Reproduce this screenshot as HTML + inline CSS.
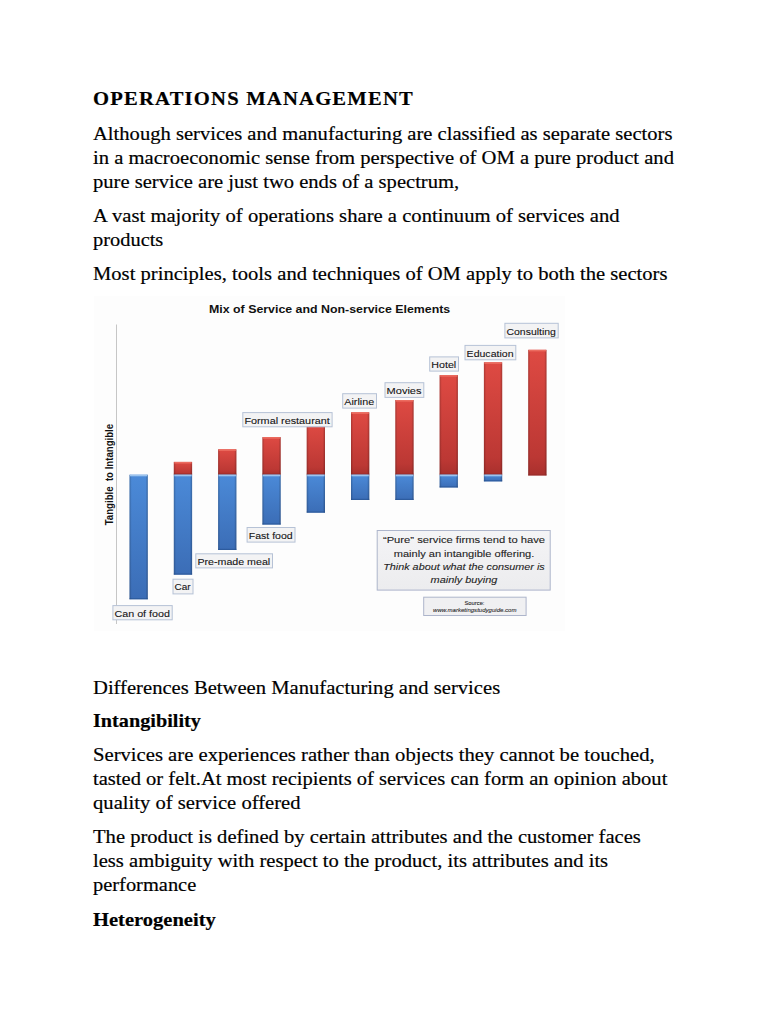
<!DOCTYPE html>
<html><head><meta charset="utf-8"><style>
html,body{margin:0;padding:0;background:#fff;width:768px;height:1024px;overflow:hidden}
.l{position:absolute;white-space:nowrap;font-family:"Liberation Serif",serif;font-size:20.6px;line-height:24px;color:#000}
.b{font-weight:bold}
.l{-webkit-text-stroke:0.2px #000}
.t{font-weight:bold;letter-spacing:1.2px}
#chart{position:absolute;left:0;top:0}
</style></head><body>
<div class="l t" style="top:86.45px;left:93px;transform-origin:0 18.95px;transform:scale(1.0013,0.95)">OPERATIONS MANAGEMENT</div>
<div class="l" style="top:120.85px;left:93px;transform-origin:0 18.95px;transform:scale(0.9993,0.95)">Although services and manufacturing are classified as separate sectors</div>
<div class="l" style="top:144.85px;left:93px;transform-origin:0 18.95px;transform:scale(1.0009,0.95)">in a macroeconomic sense from perspective of OM a pure product and</div>
<div class="l" style="top:168.95px;left:93px;transform-origin:0 18.95px;transform:scale(0.9989,0.95)">pure service are just two ends of a spectrum,</div>
<div class="l" style="top:202.85px;left:93px;transform-origin:0 18.95px;transform:scale(1.0030,0.95)">A vast majority of operations share a continuum of services and</div>
<div class="l" style="top:227.05px;left:93px;transform-origin:0 18.95px;transform:scale(0.9915,0.95)">products</div>
<div class="l" style="top:261.05px;left:93px;transform-origin:0 18.95px;transform:scale(1.0003,0.95)">Most principles, tools and techniques of OM apply to both the sectors</div>
<div class="l" style="top:674.85px;left:93px;transform-origin:0 18.95px;transform:scale(1.0010,0.95)">Differences Between Manufacturing and services</div>
<div class="l b" style="top:707.85px;left:93px;transform-origin:0 18.95px;transform:scale(0.9819,0.95)">Intangibility</div>
<div class="l" style="top:741.85px;left:93px;transform-origin:0 18.95px;transform:scale(1.0025,0.95)">Services are experiences rather than objects they cannot be touched,</div>
<div class="l" style="top:765.95px;left:93px;transform-origin:0 18.95px;transform:scale(0.9983,0.95)">tasted or felt.At most recipients of services can form an opinion about</div>
<div class="l" style="top:790.25px;left:93px;transform-origin:0 18.95px;transform:scale(1.0019,0.95)">quality of service offered</div>
<div class="l" style="top:823.85px;left:93px;transform-origin:0 18.95px;transform:scale(1.0000,0.95)">The product is defined by certain attributes and the customer faces</div>
<div class="l" style="top:848.25px;left:93px;transform-origin:0 18.95px;transform:scale(0.9996,0.95)">less ambiguity with respect to the product, its attributes and its</div>
<div class="l" style="top:872.45px;left:93px;transform-origin:0 18.95px;transform:scale(0.9924,0.95)">performance</div>
<div class="l b" style="top:907.05px;left:93px;transform-origin:0 18.95px;transform:scale(0.9968,0.95)">Heterogeneity</div>
<svg id="chart" width="768" height="1024" viewBox="0 0 768 1024" style="position:absolute;left:0;top:0">
<defs>
<linearGradient id="rg" x1="0" y1="0" x2="0" y2="1"><stop offset="0" stop-color="#de4a43"/><stop offset="0.85" stop-color="#bc3834"/><stop offset="1" stop-color="#a8302d"/></linearGradient>
<linearGradient id="bg" x1="0" y1="0" x2="0" y2="1"><stop offset="0" stop-color="#4b8ad8"/><stop offset="1" stop-color="#3b6db6"/></linearGradient>
<linearGradient id="edge" x1="0" y1="0" x2="1" y2="0"><stop offset="0" stop-color="#000" stop-opacity="0.22"/><stop offset="0.12" stop-color="#000" stop-opacity="0"/><stop offset="0.88" stop-color="#000" stop-opacity="0"/><stop offset="1" stop-color="#000" stop-opacity="0.25"/></linearGradient>
<linearGradient id="nb" x1="0" y1="0" x2="0" y2="1"><stop offset="0" stop-color="#f4f4f6"/><stop offset="1" stop-color="#ececee"/></linearGradient>
</defs>
<rect x="94" y="296" width="471" height="335" fill="#fdfdfd"/>
<line x1="116.5" y1="324.5" x2="116.5" y2="624" stroke="#c6c6c6" stroke-width="1"/>
<text x="209" y="312.9" font-family="Liberation Sans" font-weight="bold" font-size="11.2" fill="#111" textLength="241.2" lengthAdjust="spacingAndGlyphs">Mix of Service and Non-service Elements</text>
<text transform="translate(113,525.3) rotate(-90)" x="0" y="0" font-family="Liberation Sans" font-weight="bold" font-size="10.3" fill="#111" textLength="101.4" lengthAdjust="spacingAndGlyphs">Tangible&#160; to Intangible</text>
<rect x="129.5" y="474.7" width="18.3" height="124.6" fill="url(#bg)"/>
<rect x="129.5" y="474.7" width="18.3" height="124.6" fill="url(#edge)"/>
<rect x="130.0" y="474.7" width="17.3" height="1.6" fill="#9cc4ee"/>
<rect x="129.5" y="598.1" width="18.3" height="1.2" fill="#24508e" opacity="0.6"/>
<rect x="173.8" y="461.9" width="18.3" height="12.8" fill="url(#rg)"/>
<rect x="173.8" y="461.9" width="18.3" height="12.8" fill="url(#edge)"/>
<rect x="174.3" y="461.9" width="17.3" height="1.6" fill="#ec6c60"/>
<rect x="173.8" y="473.5" width="18.3" height="1.2" fill="#8f2a28" opacity="0.55"/>
<rect x="173.8" y="474.7" width="18.3" height="100.0" fill="url(#bg)"/>
<rect x="173.8" y="474.7" width="18.3" height="100.0" fill="url(#edge)"/>
<rect x="174.3" y="474.7" width="17.3" height="1.6" fill="#9cc4ee"/>
<rect x="173.8" y="573.5" width="18.3" height="1.2" fill="#24508e" opacity="0.6"/>
<rect x="218.1" y="449.3" width="18.3" height="25.4" fill="url(#rg)"/>
<rect x="218.1" y="449.3" width="18.3" height="25.4" fill="url(#edge)"/>
<rect x="218.6" y="449.3" width="17.3" height="1.6" fill="#ec6c60"/>
<rect x="218.1" y="473.5" width="18.3" height="1.2" fill="#8f2a28" opacity="0.55"/>
<rect x="218.1" y="474.7" width="18.3" height="75.3" fill="url(#bg)"/>
<rect x="218.1" y="474.7" width="18.3" height="75.3" fill="url(#edge)"/>
<rect x="218.6" y="474.7" width="17.3" height="1.6" fill="#9cc4ee"/>
<rect x="218.1" y="548.8" width="18.3" height="1.2" fill="#24508e" opacity="0.6"/>
<rect x="262.4" y="437.1" width="18.3" height="37.6" fill="url(#rg)"/>
<rect x="262.4" y="437.1" width="18.3" height="37.6" fill="url(#edge)"/>
<rect x="262.9" y="437.1" width="17.3" height="1.6" fill="#ec6c60"/>
<rect x="262.4" y="473.5" width="18.3" height="1.2" fill="#8f2a28" opacity="0.55"/>
<rect x="262.4" y="474.7" width="18.3" height="49.9" fill="url(#bg)"/>
<rect x="262.4" y="474.7" width="18.3" height="49.9" fill="url(#edge)"/>
<rect x="262.9" y="474.7" width="17.3" height="1.6" fill="#9cc4ee"/>
<rect x="262.4" y="523.4" width="18.3" height="1.2" fill="#24508e" opacity="0.6"/>
<rect x="306.7" y="424.6" width="18.3" height="50.1" fill="url(#rg)"/>
<rect x="306.7" y="424.6" width="18.3" height="50.1" fill="url(#edge)"/>
<rect x="307.2" y="424.6" width="17.3" height="1.6" fill="#ec6c60"/>
<rect x="306.7" y="473.5" width="18.3" height="1.2" fill="#8f2a28" opacity="0.55"/>
<rect x="306.7" y="474.7" width="18.3" height="38.0" fill="url(#bg)"/>
<rect x="306.7" y="474.7" width="18.3" height="38.0" fill="url(#edge)"/>
<rect x="307.2" y="474.7" width="17.3" height="1.6" fill="#9cc4ee"/>
<rect x="306.7" y="511.5" width="18.3" height="1.2" fill="#24508e" opacity="0.6"/>
<rect x="351.0" y="412.3" width="18.3" height="62.4" fill="url(#rg)"/>
<rect x="351.0" y="412.3" width="18.3" height="62.4" fill="url(#edge)"/>
<rect x="351.5" y="412.3" width="17.3" height="1.6" fill="#ec6c60"/>
<rect x="351.0" y="473.5" width="18.3" height="1.2" fill="#8f2a28" opacity="0.55"/>
<rect x="351.0" y="474.7" width="18.3" height="25.3" fill="url(#bg)"/>
<rect x="351.0" y="474.7" width="18.3" height="25.3" fill="url(#edge)"/>
<rect x="351.5" y="474.7" width="17.3" height="1.6" fill="#9cc4ee"/>
<rect x="351.0" y="498.8" width="18.3" height="1.2" fill="#24508e" opacity="0.6"/>
<rect x="395.3" y="400.0" width="18.3" height="74.7" fill="url(#rg)"/>
<rect x="395.3" y="400.0" width="18.3" height="74.7" fill="url(#edge)"/>
<rect x="395.8" y="400.0" width="17.3" height="1.6" fill="#ec6c60"/>
<rect x="395.3" y="473.5" width="18.3" height="1.2" fill="#8f2a28" opacity="0.55"/>
<rect x="395.3" y="474.7" width="18.3" height="25.3" fill="url(#bg)"/>
<rect x="395.3" y="474.7" width="18.3" height="25.3" fill="url(#edge)"/>
<rect x="395.8" y="474.7" width="17.3" height="1.6" fill="#9cc4ee"/>
<rect x="395.3" y="498.8" width="18.3" height="1.2" fill="#24508e" opacity="0.6"/>
<rect x="439.6" y="375.1" width="18.3" height="99.6" fill="url(#rg)"/>
<rect x="439.6" y="375.1" width="18.3" height="99.6" fill="url(#edge)"/>
<rect x="440.1" y="375.1" width="17.3" height="1.6" fill="#ec6c60"/>
<rect x="439.6" y="473.5" width="18.3" height="1.2" fill="#8f2a28" opacity="0.55"/>
<rect x="439.6" y="474.7" width="18.3" height="12.8" fill="url(#bg)"/>
<rect x="439.6" y="474.7" width="18.3" height="12.8" fill="url(#edge)"/>
<rect x="440.1" y="474.7" width="17.3" height="1.6" fill="#9cc4ee"/>
<rect x="439.6" y="486.3" width="18.3" height="1.2" fill="#24508e" opacity="0.6"/>
<rect x="483.9" y="362.3" width="18.3" height="112.4" fill="url(#rg)"/>
<rect x="483.9" y="362.3" width="18.3" height="112.4" fill="url(#edge)"/>
<rect x="484.4" y="362.3" width="17.3" height="1.6" fill="#ec6c60"/>
<rect x="483.9" y="473.5" width="18.3" height="1.2" fill="#8f2a28" opacity="0.55"/>
<rect x="483.9" y="474.7" width="18.3" height="6.7" fill="url(#bg)"/>
<rect x="483.9" y="474.7" width="18.3" height="6.7" fill="url(#edge)"/>
<rect x="484.4" y="474.7" width="17.3" height="1.6" fill="#9cc4ee"/>
<rect x="483.9" y="480.2" width="18.3" height="1.2" fill="#24508e" opacity="0.6"/>
<rect x="528.2" y="349.8" width="18.3" height="125.7" fill="url(#rg)"/>
<rect x="528.2" y="349.8" width="18.3" height="125.7" fill="url(#edge)"/>
<rect x="528.7" y="349.8" width="17.3" height="1.6" fill="#ec6c60"/>
<rect x="528.2" y="474.3" width="18.3" height="1.2" fill="#8f2a28" opacity="0.55"/>
<rect x="112.9" y="605.6" width="59.3" height="14.2" fill="#f3f3f4" stroke="#b6c2d6" stroke-width="1"/>
<text x="114.5" y="616.8" font-family="Liberation Sans" font-size="9.9" fill="#141414" stroke="#141414" stroke-width="0.1" textLength="55.4" lengthAdjust="spacingAndGlyphs">Can of food</text>
<rect x="173.0" y="579.2" width="20.0" height="14.7" fill="#f3f3f4" stroke="#b6c2d6" stroke-width="1"/>
<text x="174.6" y="590.4" font-family="Liberation Sans" font-size="9.9" fill="#141414" stroke="#141414" stroke-width="0.1" textLength="16.1" lengthAdjust="spacingAndGlyphs">Car</text>
<rect x="195.8" y="553.8" width="76.7" height="14.1" fill="#f3f3f4" stroke="#b6c2d6" stroke-width="1"/>
<text x="197.4" y="565.0" font-family="Liberation Sans" font-size="9.9" fill="#141414" stroke="#141414" stroke-width="0.1" textLength="72.8" lengthAdjust="spacingAndGlyphs">Pre-made meal</text>
<rect x="247.1" y="527.5" width="47.9" height="14.6" fill="#f3f3f4" stroke="#b6c2d6" stroke-width="1"/>
<text x="248.7" y="538.7" font-family="Liberation Sans" font-size="9.9" fill="#141414" stroke="#141414" stroke-width="0.1" textLength="44.0" lengthAdjust="spacingAndGlyphs">Fast food</text>
<rect x="242.8" y="412.6" width="89.3" height="14.2" fill="#f3f3f4" stroke="#b6c2d6" stroke-width="1"/>
<text x="244.4" y="423.8" font-family="Liberation Sans" font-size="9.9" fill="#141414" stroke="#141414" stroke-width="0.1" textLength="85.4" lengthAdjust="spacingAndGlyphs">Formal restaurant</text>
<rect x="342.7" y="393.7" width="33.8" height="14.4" fill="#f3f3f4" stroke="#b6c2d6" stroke-width="1"/>
<text x="344.3" y="404.9" font-family="Liberation Sans" font-size="9.9" fill="#141414" stroke="#141414" stroke-width="0.1" textLength="29.9" lengthAdjust="spacingAndGlyphs">Airline</text>
<rect x="385.0" y="382.7" width="38.8" height="14.7" fill="#f3f3f4" stroke="#b6c2d6" stroke-width="1"/>
<text x="386.6" y="393.9" font-family="Liberation Sans" font-size="9.9" fill="#141414" stroke="#141414" stroke-width="0.1" textLength="34.9" lengthAdjust="spacingAndGlyphs">Movies</text>
<rect x="429.7" y="356.9" width="28.8" height="14.2" fill="#f3f3f4" stroke="#b6c2d6" stroke-width="1"/>
<text x="431.3" y="368.1" font-family="Liberation Sans" font-size="9.9" fill="#141414" stroke="#141414" stroke-width="0.1" textLength="24.9" lengthAdjust="spacingAndGlyphs">Hotel</text>
<rect x="465.0" y="345.4" width="50.8" height="14.4" fill="#f3f3f4" stroke="#b6c2d6" stroke-width="1"/>
<text x="466.6" y="356.6" font-family="Liberation Sans" font-size="9.9" fill="#141414" stroke="#141414" stroke-width="0.1" textLength="46.9" lengthAdjust="spacingAndGlyphs">Education</text>
<rect x="504.9" y="323.3" width="53.3" height="14.6" fill="#f3f3f4" stroke="#b6c2d6" stroke-width="1"/>
<text x="506.5" y="334.5" font-family="Liberation Sans" font-size="9.9" fill="#141414" stroke="#141414" stroke-width="0.1" textLength="49.4" lengthAdjust="spacingAndGlyphs">Consulting</text>
<rect x="377.2" y="530.5" width="173" height="59.6" fill="url(#nb)" stroke="#adb5cb" stroke-width="1"/>
<text x="464" y="543.2" text-anchor="middle" font-family="Liberation Sans" font-size="9.3" fill="#1e1e1e" stroke="#1e1e1e" stroke-width="0.1" textLength="162.2" lengthAdjust="spacingAndGlyphs">“Pure” service firms tend to have</text>
<text x="464" y="556.6" text-anchor="middle" font-family="Liberation Sans" font-size="9.3" fill="#1e1e1e" stroke="#1e1e1e" stroke-width="0.1" textLength="140.5" lengthAdjust="spacingAndGlyphs">mainly an intangible offering.</text>
<text x="464" y="569.7" text-anchor="middle" font-family="Liberation Sans" font-size="9.3" font-style="italic" fill="#1e1e1e" stroke="#1e1e1e" stroke-width="0.1" textLength="161.6" lengthAdjust="spacingAndGlyphs">Think about what the consumer is</text>
<text x="464" y="583.2" text-anchor="middle" font-family="Liberation Sans" font-size="9.3" font-style="italic" fill="#1e1e1e" stroke="#1e1e1e" stroke-width="0.1" textLength="66.8" lengthAdjust="spacingAndGlyphs">mainly buying</text>
<rect x="423.7" y="597.2" width="102.4" height="18.3" fill="#f0f0f2" stroke="#adb5cb" stroke-width="1"/>
<text x="474.5" y="604.7" text-anchor="middle" font-family="Liberation Sans" font-size="5.8" fill="#222" stroke="#222" stroke-width="0.08">Source:</text>
<text x="474.8" y="612" text-anchor="middle" font-family="Liberation Sans" font-size="6.2" font-style="italic" fill="#222" stroke="#222" stroke-width="0.08" textLength="83.5" lengthAdjust="spacingAndGlyphs">www.marketingstudyguide.com</text>
</svg>
</body></html>
